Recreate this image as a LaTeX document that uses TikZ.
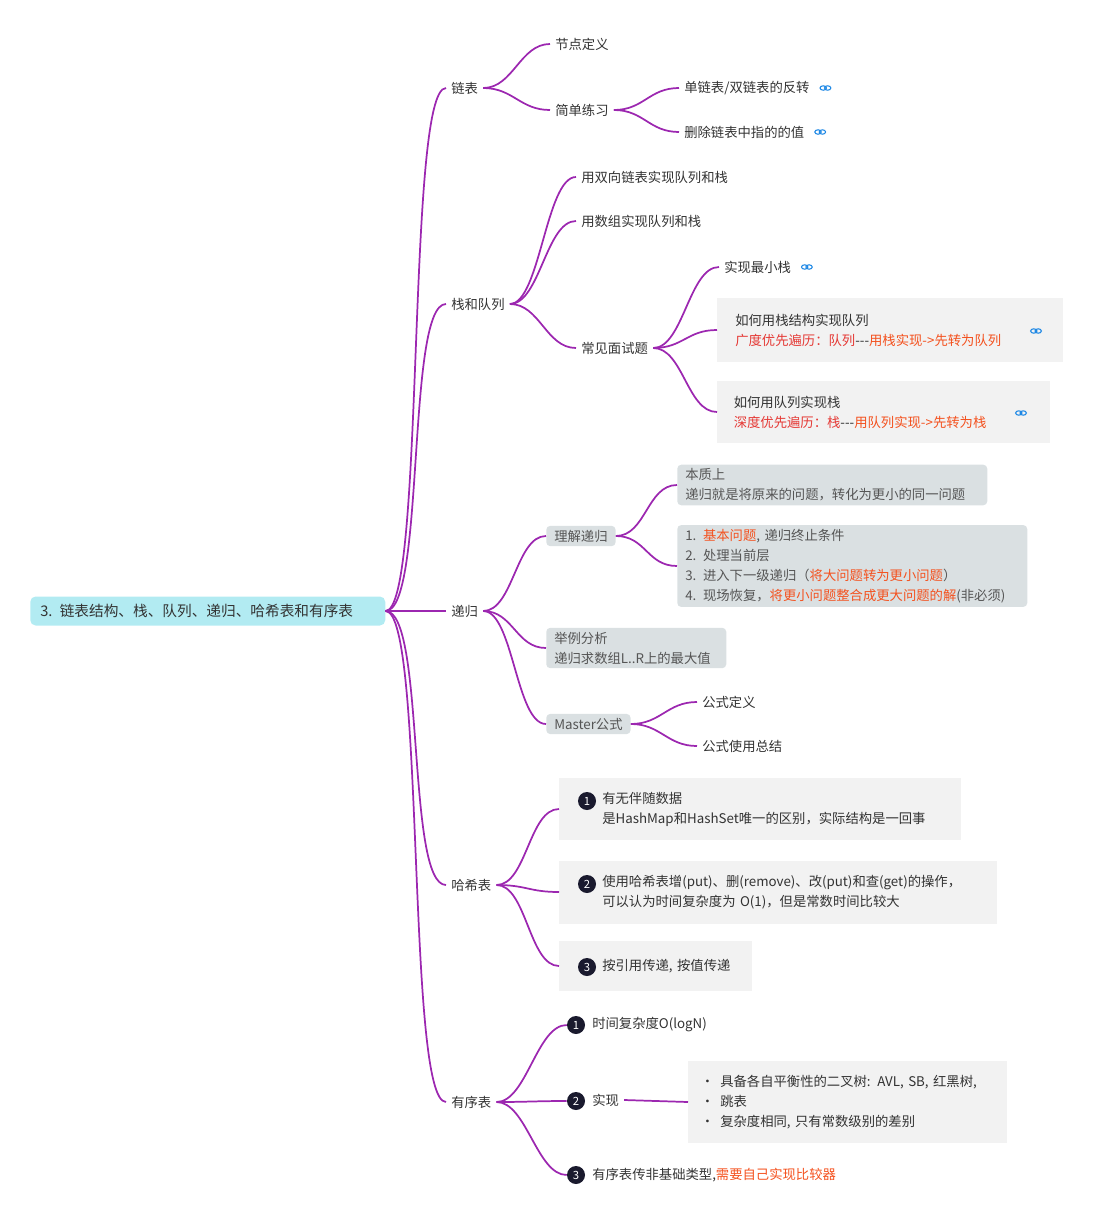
\documentclass[tikz,border=0pt]{standalone}
\usepackage{fontspec}
\setmainfont{Noto Sans CJK SC}
\def\pxs{*0.75pt}
\definecolor{mmedge}{HTML}{9C27B0}
\definecolor{mmtext}{HTML}{333333}
\definecolor{mmsoft}{HTML}{555555}
\definecolor{mmred}{HTML}{E53935}
\definecolor{mmorange}{HTML}{F4511E}
\definecolor{mmlink}{HTML}{1E88E5}
\definecolor{mmroot}{HTML}{B2EBF2}
\definecolor{mmbox}{HTML}{F2F2F2}
\definecolor{mmrec}{HTML}{DAE0E2}
\definecolor{mmdark}{HTML}{1A1A2E}
\newcommand\mmedge[3][30]{\draw[edge] (#2.east) .. controls +(#1,0) and +(-#1,0) .. (#3.west);}
\newcommand\orng[1]{{\color{mmorange}#1}}
\newcommand\bul{\makebox[10.5pt][l]{\kern-4pt\textbullet}}
\newcommand\ind{\hspace*{18.75pt}}
\newcommand\dashes{-{}-{}-}
\tikzset{
  edge/.style={draw=mmedge, line width=1.3pt},
  lbl/.style={anchor=west, text=mmtext, inner xsep=5\pxs, inner ysep=2\pxs,
    font=\fontsize{10}{15}\selectfont, align=left},
  note/.style={lbl, fill=mmbox, inner xsep=14\pxs, inner ysep=0pt},
  rec/.style={lbl, fill=mmrec, text=mmsoft, rounded corners=3pt, inner xsep=8\pxs, inner ysep=4\pxs},
  num/.style={circle, fill=mmdark, text=white, inner sep=0pt, minimum size=18\pxs,
    font=\fontsize{8.5}{9}\selectfont},
  linkico/.pic={\draw[mmlink, line width=0.8pt] (-2.2,0) ellipse (3.2 and 2.2) (2.2,0) ellipse (3.2 and 2.2);}
}
\begin{document}
\begin{tikzpicture}[x=0.75pt, y=-0.75pt]
\useasboundingbox (0,0) rectangle (1096,1224);
% root
\node[lbl, fill=mmroot, rounded corners=4pt, minimum height=29\pxs, text width=335\pxs,
  font=\fontsize{11}{13}\selectfont, inner xsep=10\pxs] (root) at (30,611)
  {3. 链表结构、栈、队列、递归、哈希表和有序表};
% first level
\node[lbl] (list) at (446,88) {链表};
\node[lbl] (stack) at (446,304) {栈和队列};
\node[lbl] (recur) at (446,611) {递归};
\node[lbl] (hash) at (446,885) {哈希表};
\node[lbl] (sorted) at (446,1102) {有序表};
\foreach \k in {list,stack,recur,hash,sorted} {\mmedge[40]{root}{\k}}
% list
\node[lbl] (nodedef) at (550,44) {节点定义};
\node[lbl] (practice) at (550,110) {简单练习};
\node[lbl] (reverse) at (679,88) {单链表/双链表的反转};
\node[lbl] (delete) at (679,132) {删除链表中指的的值};
\pic at ([xshift=8pt]reverse.east) {linkico};
\pic at ([xshift=8pt]delete.east) {linkico};
\mmedge{list}{nodedef} \mmedge{list}{practice}
\mmedge{practice}{reverse} \mmedge{practice}{delete}
% stack and queue
\node[lbl] (dlist) at (576,177) {用双向链表实现队列和栈};
\node[lbl] (arr) at (576,221) {用数组实现队列和栈};
\node[lbl] (interview) at (576,348) {常见面试题};
\node[lbl] (minstack) at (719,267) {实现最小栈};
\pic at ([xshift=8pt]minstack.east) {linkico};
\node[note, minimum width=346\pxs, minimum height=64\pxs, text width=310\pxs] (q2s) at (717,330)
  {如何用栈结构实现队列\\{\color{mmred}广度优先遍历：队列}\dashes\orng{用栈实现->先转为队列}};
\node[note, minimum width=333\pxs, minimum height=62\pxs, text width=300\pxs] (s2q) at (717,412)
  {如何用队列实现栈\\{\color{mmred}深度优先遍历：栈}\dashes\orng{用队列实现->先转为栈}};
\pic at (1036,331) {linkico};
\pic at (1021,413) {linkico};
\mmedge{stack}{dlist} \mmedge{stack}{arr} \mmedge{stack}{interview}
\mmedge{interview}{minstack} \mmedge{interview}{q2s} \mmedge{interview}{s2q}
% recursion
\node[rec] (understand) at (546,536) {理解递归};
\node[rec, text width=294\pxs] (essence) at (677,485)
  {本质上\\递归就是将原来的问题，转化为更小的同一问题};
\node[rec, text width=334\pxs] (steps) at (677,566)
  {1. \orng{基本问题}, 递归终止条件\\2. 处理当前层\\3. 进入下一级递归（\orng{将大问题转为更小问题}）\\4. 现场恢复，\orng{将更小问题整合成更大问题的解}(非必须)};
\node[rec, text width=164\pxs] (example) at (546,648) {举例分析\\递归求数组L..R上的最大值};
\node[rec] (master) at (546,724) {Master公式};
\node[lbl] (mdef) at (697,702) {公式定义};
\node[lbl] (muse) at (697,746) {公式使用总结};
\mmedge{recur}{understand} \mmedge{recur}{example} \mmedge{recur}{master}
\mmedge{understand}{essence} \mmedge{understand}{steps}
\mmedge{master}{mdef} \mmedge{master}{muse}
% hash table
\node[note, inner xsep=18\pxs, text width=366\pxs, minimum height=62\pxs] (h1) at (559,809)
  {\ind 有无伴随数据\\\ind 是HashMap和HashSet唯一的区别，实际结构是一回事};
\node[note, inner xsep=18\pxs, text width=402\pxs, minimum height=63\pxs] (h2) at (559,892)
  {\ind 使用哈希表增(put)、删(remove)、改(put)和查(get)的操作，\\\ind 可以认为时间复杂度为 O(1)，但是常数时间比较大};
\node[note, inner xsep=18\pxs, text width=157\pxs, minimum height=50\pxs] (h3) at (559,966)
  {\ind 按引用传递, 按值传递};
\node[num] (n1) at (587,801) {1};
\node[num] (n2) at (587,884) {2};
\node[num] (n3) at (587,967) {3};
\mmedge{hash}{h1} \mmedge{hash}{h2} \mmedge{hash}{h3}
% sorted table
\node[num] (s1) at (576,1025) {1};
\node[num] (s2) at (576,1101) {2};
\node[num] (s3) at (576,1175) {3};
\node[lbl] (s1t) at (587,1025) {时间复杂度O(logN)};
\node[lbl] (impl) at (587,1100) {实现};
\node[lbl] (s3t) at (587,1175) {有序表传非基础类型,\orng{需要自己实现比较器}};
\node[note, inner xsep=18\pxs, text width=283\pxs, minimum height=82\pxs] (impltree) at (688,1102)
  {\bul 具备各自平衡性的二叉树: AVL, SB, 红黑树,\\\bul 跳表\\\bul 复杂度相同, 只有常数级别的差别};
\mmedge{sorted}{s1} \mmedge{sorted}{s2} \mmedge{sorted}{s3}
\draw[edge] (impl.east) -- (impltree.west);
\end{tikzpicture}
\end{document}
